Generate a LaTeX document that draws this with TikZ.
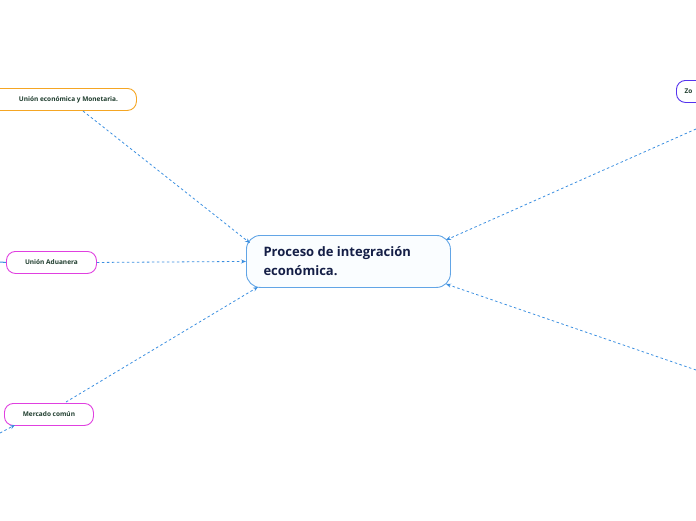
\documentclass[tikz,border=0pt]{standalone}
\usepackage{fontspec}
\setmainfont{Open Sans}
\usetikzlibrary{arrows.meta}
\definecolor{link}{HTML}{3B8FE0}
\definecolor{txt}{HTML}{1F3D2E}
\definecolor{orng}{HTML}{F5A623}
\definecolor{mag}{HTML}{E040E0}
\definecolor{purp}{HTML}{5533EE}
\definecolor{navy}{HTML}{141E46}
\tikzset{
  x=1pt,y=-1pt,
  leaf/.style={draw=#1,line width=0.9pt,rounded corners=9pt,fill=white,font=\bfseries\fontsize{6.5}{8}\selectfont,text=txt,minimum height=22pt,inner sep=0pt,anchor=north west},
  link/.style={draw=link,dashed,dash pattern=on 2.5pt off 2.5pt,line width=0.8pt},
  tip/.style={-{Stealth[length=5pt,width=4pt]}}
}
\begin{document}
\begin{tikzpicture}
\useasboundingbox (0,0) rectangle (696,520);
\node[draw=link!80,line width=0.9pt,rounded corners=14pt,fill=cyan!2,minimum width=204pt,minimum height=52pt,anchor=north west,inner sep=0pt] (c) at (246,235) {};
\node[anchor=west,align=left,font=\bfseries\fontsize{13}{19}\selectfont,text=navy] (ct) at (260,261) {Proceso de integración\\económica.};
\node[leaf=orng,minimum width=148pt] (u) at (-12,88) {\hspace*{12pt}Unión económica y Monetaria.};
\node[leaf=mag,minimum width=90pt] (a) at (6,251) {Unión Aduanera};
\node[leaf=mag,minimum width=89pt] (m) at (4,403) {Mercado común};
\node[leaf=purp,minimum width=40pt] (z) at (676,80) {\hspace*{-16pt}Zo};
\coordinate (zr) at (696,129);
\coordinate (br) at (696,370);
\coordinate (ml) at (0,433);
\coordinate (al) at (0,262);
\draw[link,tip] (83,111) -- (250,243);
\draw[link,tip] (a.east) -- (c.west);
\draw[link,tip] (66,402) -- (258,287);
\draw[link,tip] (zr) -- (446,240);
\draw[link,tip] (br) -- (446,284);
\draw[link,tip] (ml) -- (15,425);
\draw[draw=link,line width=1pt] (al) -- (a.west);
\end{tikzpicture}
\end{document}
